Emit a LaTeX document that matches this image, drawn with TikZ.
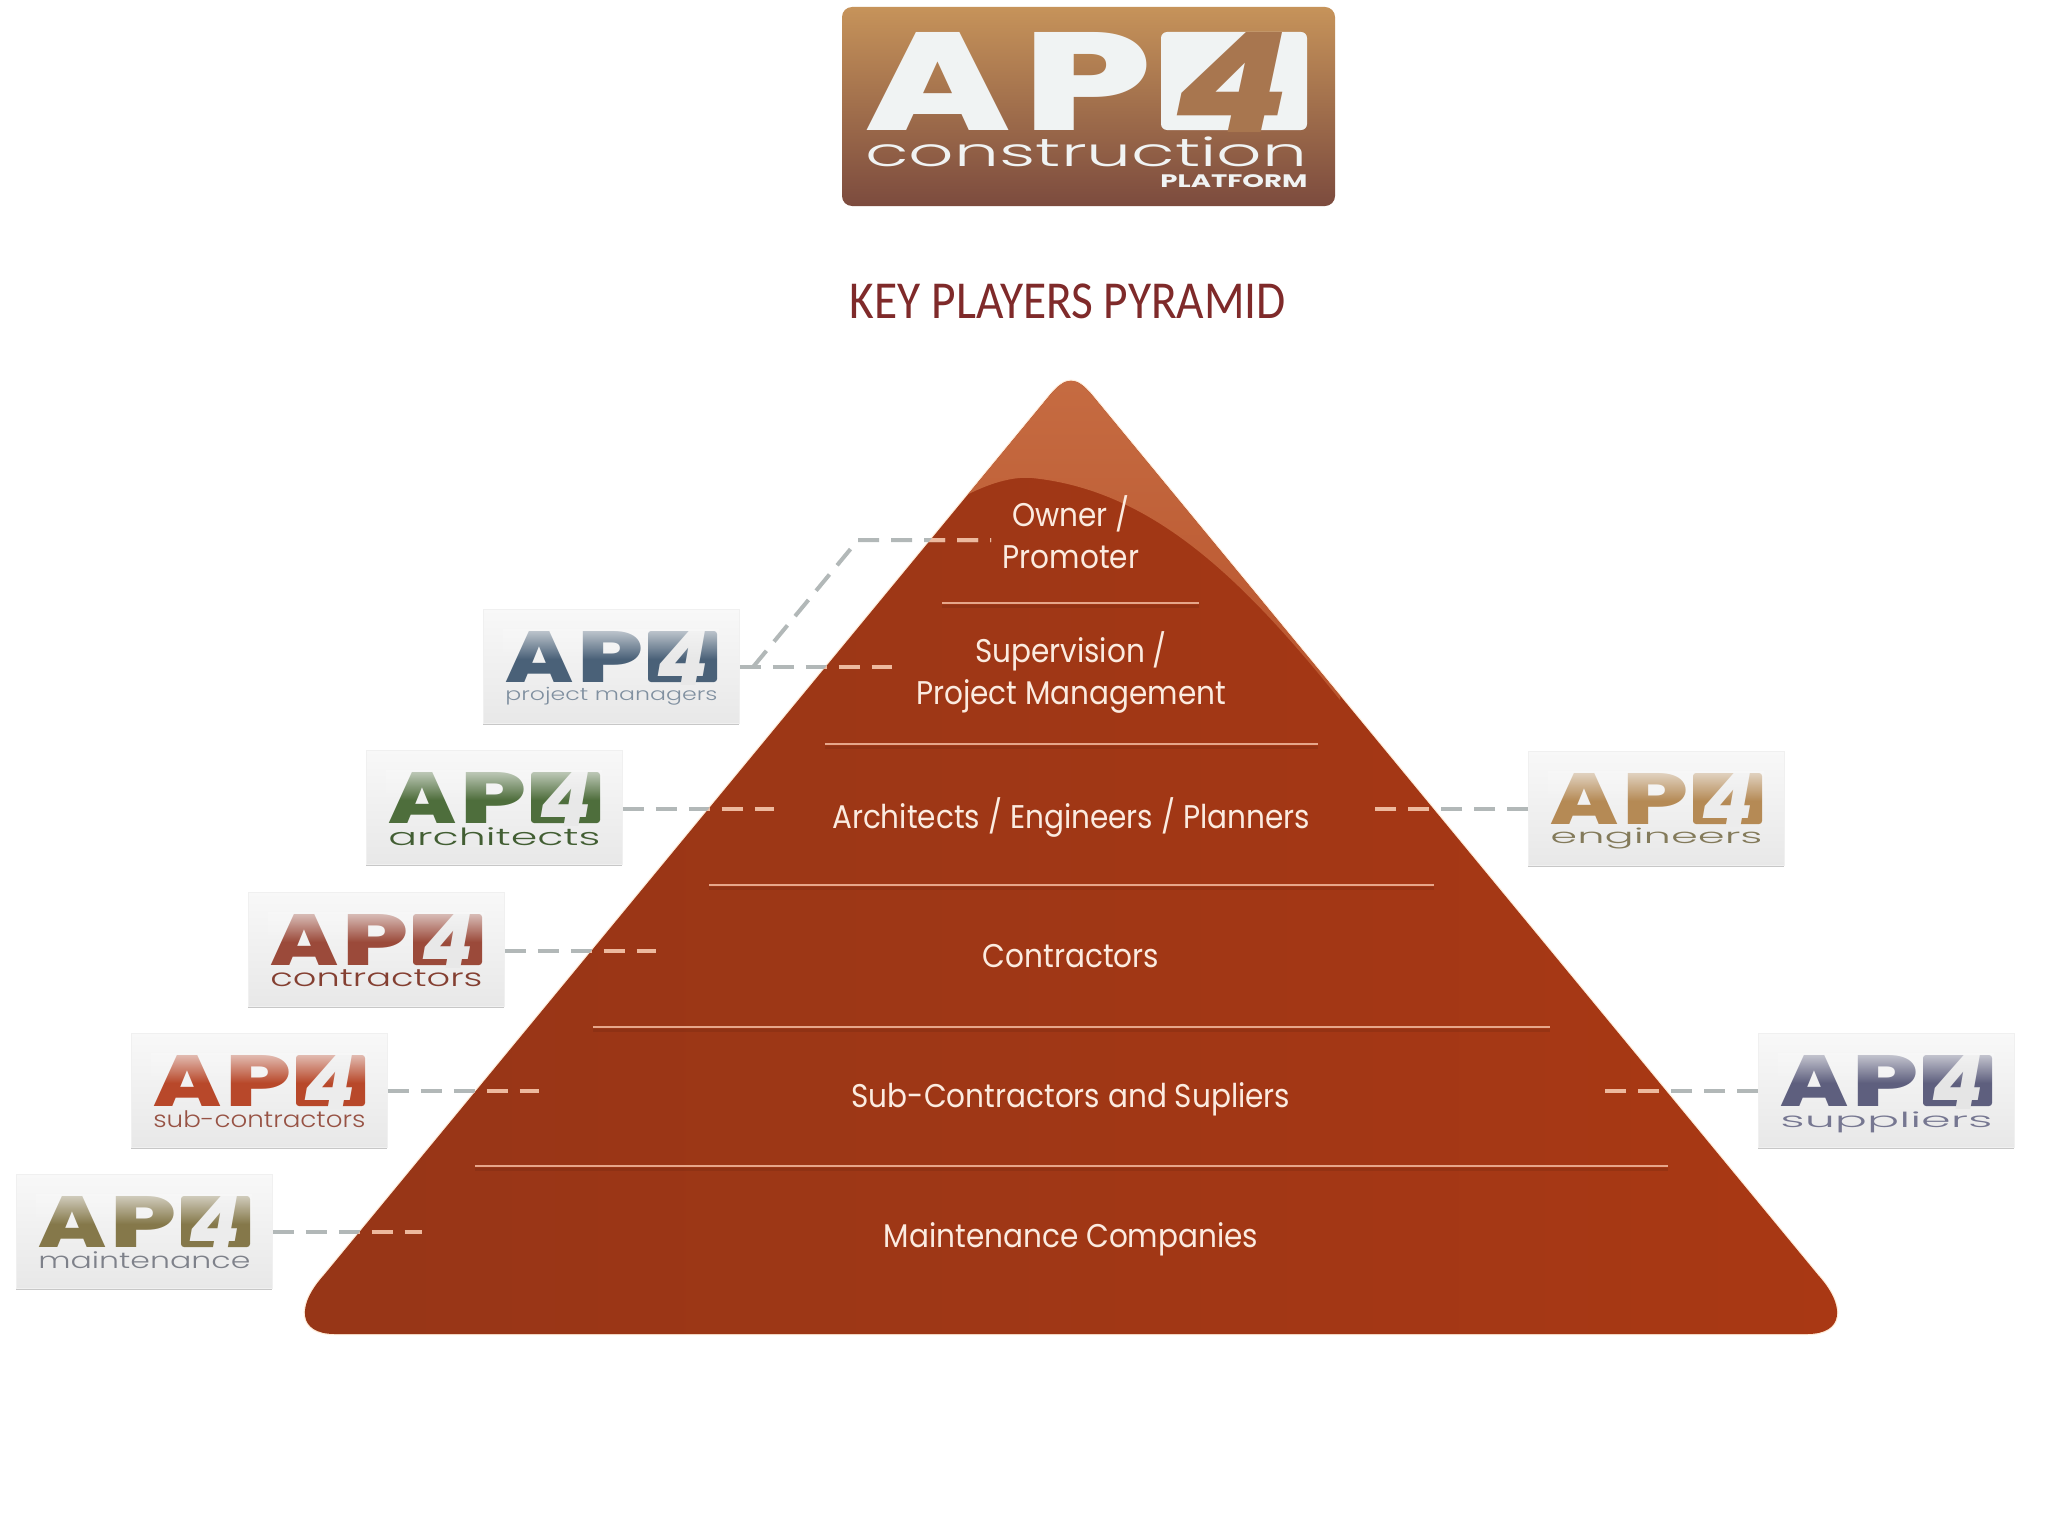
\documentclass[tikz,border=0pt]{standalone}
\usepackage{fontspec}
\usepackage{graphicx}
\usetikzlibrary{shadows,fadings}
\setmainfont{Poppins}[FakeStretch=0.9]
\newfontfamily\markfont{Poppins ExtraBold}
\newfontfamily\platfont{Poppins}
\newfontfamily\thinfont{Poppins Light}
\newfontfamily\titlefont{Carlito}
\definecolor{pyrleft}{HTML}{973617}
\definecolor{pyrright}{HTML}{A93814}
\definecolor{captop}{HTML}{C66C42}
\definecolor{capbot}{HTML}{B9552E}
\definecolor{sepcol}{HTML}{E6A68A}
\definecolor{txtcol}{HTML}{FBEBE0}
\definecolor{dashgray}{HTML}{B2B8B8}
\definecolor{dashpeach}{HTML}{EDB99E}
\definecolor{logotop}{HTML}{C6935A}
\definecolor{logobot}{HTML}{7C4B3E}
\definecolor{logowhite}{HTML}{F0F3F3}
\definecolor{titlecol}{HTML}{7F2A2A}
\definecolor{cardtop}{HTML}{F8F8F8}
\definecolor{cardbot}{HTML}{E8E8E8}
\tikzfading[name=markfade, top color=transparent!30, bottom color=transparent!100]
\newcommand{\fit}[3]{\resizebox*{\dimexpr #1pt/2\relax}{\dimexpr #2pt/2\relax}{#3}}
\newcommand{\pyrpath}{(1050,395) .. controls (1066,376) and (1076,376) .. (1092,395) -- (1818,1275) .. controls (1846,1306) and (1844,1334) .. (1807,1334) -- (335,1334) .. controls (298,1334) and (296,1306) .. (324,1275) -- cycle}
% #1 name, #2 card node, #3 dark colour, #4 colour of the 4, #5 subtitle colour, #6 subtitle, #7 subtitle top, #8 subtitle height
\newcommand{\smallmark}[8]{%
  \begin{scope}[shift={(#2.north west)}]
    \node[markpart,text=#3] (#1a) at (22,22) {\fit{68}{51}{\markfont A}};
    \node[markpart,text=#3] (#1p) at (94,22) {\fit{66}{51}{\markfont P}};
    \fill[#3,rounded corners=1.5pt] (165,22) rectangle (234,73);
    \node[text=#4,inner sep=0pt] (#1f) at (199,49) {\fit{52}{54}{\markfont\itshape 4}};
    \fill[cardtop,path fading=markfade] (20,20) rectangle (236,50);
    \node[markpart,text=#5] (#1s) at (22,#7) {\fit{212}{#8}{\thinfont #6}};
  \end{scope}}
\tikzset{
  x=0.5pt,y=-0.5pt,
  markpart/.style={inner sep=0pt,anchor=north west},
  cardbox/.style={anchor=north west,minimum width=128pt,minimum height=57pt,inner sep=0pt,
    top color=cardtop,bottom color=cardbot,draw=gray!12,line width=0.4pt,
    drop shadow={shadow xshift=0pt,shadow yshift=-1pt,opacity=0.22,fill=black}},
  seprule/.style={draw=sepcol,line width=1.1pt},
  sepshade/.style={draw=pyrleft!70!black,line width=1.5pt,opacity=0.25},
  tier/.style={text=txtcol,font=\fontsize{16.4}{21}\selectfont,align=center,inner sep=0pt},
  graylink/.style={draw=dashgray,line width=2pt,dash pattern=on 10.5pt off 6pt},
  peachlink/.style={draw=dashpeach,line width=2pt,dash pattern=on 10.5pt off 6pt},
}
\begin{document}
\begin{tikzpicture}
\useasboundingbox (0,0) rectangle (2048,1536);
\fill[white] (0,0) rectangle (2048,1536);

% header logo
\shade[top color=logotop,bottom color=logobot,rounded corners=5pt] (842,7) rectangle (1335,206);
\node[markpart,text=logowhite] (mainA) at (865,32) {\fit{145}{98}{\markfont A}};
\node[markpart,text=logowhite] (mainP) at (1023,32) {\fit{128}{98}{\markfont P}};
\fill[logowhite,rounded corners=3pt] (1161,32) rectangle (1307,130);
\node[text=logotop!60!logobot,inner sep=0pt] (mainF) at (1232,82) {\fit{116}{100}{\markfont\itshape 4}};
\node[markpart,text=logowhite] (mainC) at (865,136) {\fit{442}{30}{\thinfont construction}};
\node[markpart,text=logowhite] (mainD) at (1160,174) {\fit{147}{13}{\platfont\bfseries PLATFORM}};
\node[text=titlecol,inner sep=0pt] (title) at (1068,301) {\fit{436}{35}{\titlefont KEY PLAYERS PYRAMID}};

% pyramid
\draw[draw=orange!15,line width=1.2pt] \pyrpath;
\shade[left color=pyrleft,right color=pyrright] \pyrpath;
\begin{scope}
  \clip \pyrpath;
  \shade[top color=captop,bottom color=capbot]
    (940,510) .. controls (980,485) and (1010,476) .. (1032,478)
    .. controls (1150,490) and (1240,575) .. (1340,700)
    -- (1400,370) -- (800,370) -- cycle;
\end{scope}

% separators
\coordinate (s1l) at (942,603);  \coordinate (s1r) at (1199,603);
\coordinate (s2l) at (825,744);  \coordinate (s2r) at (1318,744);
\coordinate (s3l) at (709,885);  \coordinate (s3r) at (1434,885);
\coordinate (s4l) at (593,1027); \coordinate (s4r) at (1550,1027);
\coordinate (s5l) at (475,1166); \coordinate (s5r) at (1668,1166);
\foreach \n in {1,...,5} {
  \draw[sepshade] ([yshift=-1.8pt]s\n l) -- ([yshift=-1.8pt]s\n r);
  \draw[seprule] (s\n l) -- (s\n r);
}

% tier labels
\node[tier] (owner) at (1071,532) {Owner /\\Promoter};
\node[tier] (super) at (1071,672) {Supervision /\\Project Management};
\node[tier] (arch)  at (1071,817) {Architects / Engineers / Planners};
\node[tier] (contr) at (1071,956) {Contractors};
\node[tier] (subc)  at (1071,1099) {Sub-Contractors and Supliers};
\node[tier] (maint) at (1071,1239) {Maintenance Companies};

% cards
\node[cardbox] (pmcard)   at (483,609)  {};
\node[cardbox] (archcard) at (366,750)  {};
\node[cardbox] (concard)  at (248,892)  {};
\node[cardbox] (subcard)  at (131,1033) {};
\node[cardbox] (maincard) at (16,1174)  {};
\node[cardbox] (engcard)  at (1528,751) {};
\node[cardbox] (supcard)  at (1758,1033) {};

\definecolor{pmc}{HTML}{4A6178}
\definecolor{arc}{HTML}{4E6E3C}
\definecolor{coc}{HTML}{9B4A3A}
\definecolor{suc}{HTML}{B8482A}
\definecolor{mac}{HTML}{85784A}
\definecolor{enc}{HTML}{B58A55}
\definecolor{spc}{HTML}{5E5F7E}
\smallmark{pm}{pmcard}{pmc}{gray!18}{pmc!70!white}{project managers}{78}{18}
\smallmark{ar}{archcard}{arc}{gray!18}{arc!85!black}{architects}{77}{18}
\smallmark{co}{concard}{coc}{gray!18}{coc!85!black}{contractors}{77}{17}
\smallmark{su}{subcard}{suc}{gray!15}{coc!85!gray}{sub-contractors}{77}{17}
\smallmark{ma}{maincard}{mac}{gray!15}{gray!120!mac}{maintenance}{77}{17}
\smallmark{en}{engcard}{enc}{gray!15}{mac!70!gray}{engineers}{77}{21}
\smallmark{sp}{supcard}{spc}{gray!20}{spc!85!white}{suppliers}{78}{21}

% connectors
\coordinate (pmend) at (892,667);
\coordinate (pmbranch) at (753,667);
\coordinate (pmbend) at (858,540);
\coordinate (ownend) at (991,540);
\coordinate (arend) at (774,809);
\coordinate (enend) at (1369,809);
\coordinate (coend) at (656,951);
\coordinate (suend) at (539,1091);
\coordinate (spend) at (1605,1091);
\coordinate (maend) at (422,1232);
\newcommand{\alllinks}[1]{%
  \draw[#1] (pmcard.east |- pmend) -- (pmend);
  \draw[#1] (pmbranch) -- (pmbend) -- (ownend);
  \draw[#1] (archcard.east |- arend) -- (arend);
  \draw[#1] (engcard.west |- enend) -- (enend);
  \draw[#1] (concard.east |- coend) -- (coend);
  \draw[#1] (subcard.east |- suend) -- (suend);
  \draw[#1] (supcard.west |- spend) -- (spend);
  \draw[#1] (maincard.east |- maend) -- (maend);}
\alllinks{graylink}
\begin{scope}
  \clip \pyrpath;
  \alllinks{peachlink}
\end{scope}
\end{tikzpicture}
\end{document}
